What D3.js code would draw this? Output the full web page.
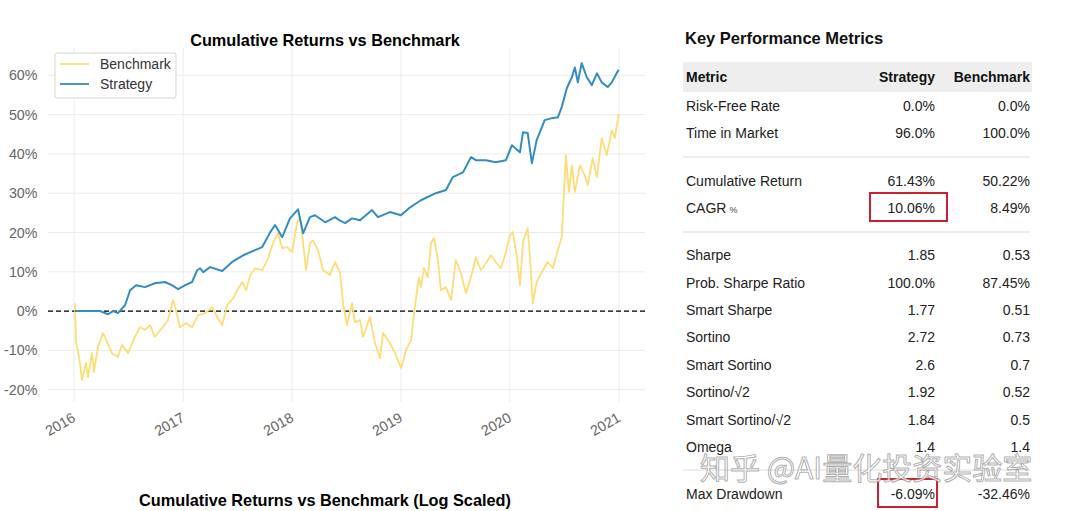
<!DOCTYPE html>
<html><head><meta charset="utf-8">
<script src="https://cdn.jsdelivr.net/npm/d3@7"></script>
<style>
html,body{margin:0;padding:0;background:#fff;}
svg{display:block;font-family:"Liberation Sans",Arial,sans-serif;}
</style></head>
<body><svg id="c" width="1080" height="511"></svg>
<script>
// ---------------- data ----------------
const strategyDates = ["2016-01-04","2016-03-28","2016-04-24","2016-05-11","2016-05-27","2016-06-20","2016-07-07","2016-07-27","2016-08-26","2016-09-28","2016-11-01","2016-11-24","2016-12-15","2017-01-08","2017-01-31","2017-02-17","2017-02-27","2017-03-09","2017-04-01","2017-05-12","2017-06-14","2017-07-21","2017-08-30","2017-09-23","2017-10-20","2017-11-05","2017-11-29","2017-12-25","2018-01-21","2018-02-07","2018-03-02","2018-03-19","2018-04-22","2018-05-25","2018-06-11","2018-06-28","2018-07-21","2018-08-17","2018-09-26","2018-10-16","2018-11-25","2019-01-01","2019-01-28","2019-03-09","2019-04-28","2019-06-01","2019-06-24","2019-07-28","2019-08-24","2019-09-09","2019-10-13","2019-11-15","2019-12-19","2020-01-08","2020-02-04","2020-02-14","2020-03-01","2020-03-15","2020-03-31","2020-04-27","2020-05-21","2020-06-10","2020-06-23","2020-07-10","2020-07-27","2020-08-06","2020-08-16","2020-08-29","2020-09-15","2020-10-02","2020-10-19","2020-11-04","2020-11-24","2020-12-08","2020-12-24","2020-12-31"];
const strategyValues = [0,0,-0.8,0,-0.5,1.5,5.3,6.6,6.1,7.1,7.4,6.6,5.6,6.6,7.4,10.4,10.9,9.9,11.2,10.2,12.5,14.2,15.5,16.3,20.1,21.9,18.8,23.6,25.9,19.8,23.9,24.4,22.6,23.9,23.0,22.4,23.6,23.1,25.7,23.9,25.2,24.4,26.2,28.2,30.0,30.8,34.1,35.3,39.2,38.4,38.4,37.9,38.4,42.2,40.4,45.5,45.3,37.6,43.5,48.6,49.1,49.3,51.9,56.7,59.5,62.0,58.2,63.1,59.5,57.5,60.5,58.2,57.0,58.2,60.5,61.4];

const benchmarkDates = ["2016-01-04","2016-01-08","2016-01-18","2016-01-28","2016-02-10","2016-02-17","2016-03-01","2016-03-08","2016-03-21","2016-04-07","2016-04-21","2016-05-07","2016-05-27","2016-06-10","2016-06-30","2016-07-23","2016-08-09","2016-08-26","2016-09-12","2016-09-28","2016-10-22","2016-11-11","2016-11-28","2016-12-08","2016-12-21","2017-01-11","2017-01-31","2017-02-20","2017-03-16","2017-04-08","2017-04-25","2017-05-12","2017-05-28","2017-06-18","2017-07-01","2017-07-18","2017-07-31","2017-08-14","2017-08-30","2017-09-23","2017-10-13","2017-10-30","2017-11-15","2017-11-29","2017-12-16","2018-01-01","2018-01-18","2018-01-28","2018-02-07","2018-02-17","2018-03-02","2018-03-12","2018-03-29","2018-04-15","2018-05-08","2018-05-25","2018-06-11","2018-06-21","2018-07-04","2018-07-21","2018-07-31","2018-08-17","2018-08-27","2018-09-19","2018-10-06","2018-10-23","2018-11-02","2018-11-25","2018-12-12","2019-01-02","2019-01-18","2019-02-04","2019-02-14","2019-03-02","2019-03-09","2019-03-19","2019-04-01","2019-04-12","2019-04-22","2019-05-05","2019-05-15","2019-06-01","2019-06-18","2019-07-04","2019-07-21","2019-08-07","2019-08-24","2019-09-09","2019-09-26","2019-10-20","2019-10-30","2019-11-15","2019-12-02","2019-12-19","2020-01-01","2020-01-11","2020-01-24","2020-02-04","2020-02-14","2020-03-01","2020-03-08","2020-03-18","2020-03-31","2020-04-17","2020-05-07","2020-05-24","2020-06-10","2020-06-23","2020-06-30","2020-07-07","2020-07-17","2020-07-27","2020-08-06","2020-08-23","2020-09-08","2020-09-18","2020-10-05","2020-10-19","2020-11-04","2020-11-21","2020-12-08","2020-12-18","2020-12-31"];
const benchmarkValues = [2.0,-8.0,-11.7,-17.5,-13.2,-16.8,-10.7,-15.5,-9.2,-5.6,-7.9,-10.7,-11.7,-8.6,-10.7,-6.6,-4.1,-4.8,-3.6,-6.6,-4.3,-2.3,2.8,0.3,-4.1,-3.1,-4.1,-1.0,-0.5,1.0,-1.5,-3.6,1.5,3.3,5.3,7.4,5.3,9.2,10.9,10.4,13.5,17.5,19.8,16.0,16.3,15.0,22.6,23.9,17.3,10.4,17.3,18.0,15.5,10.4,9.2,12.5,9.7,2.0,-3.6,2.0,-2.8,-2.3,-6.6,-1.5,-8.1,-12.0,-5.6,-8.1,-10.7,-14.5,-9.9,-7.4,-0.5,8.6,6.1,10.9,8.6,17.3,18.6,13.0,5.3,6.1,2.8,13.0,9.7,4.6,8.6,13.7,10.4,13.0,14.2,12.5,10.9,15.0,19.3,20.1,14.2,6.6,17.5,21.1,14.2,2.0,7.4,9.9,12.5,10.9,15.5,18.8,29.5,39.7,30.3,37.1,30.3,37.1,34.6,32.0,38.9,34.1,44.0,39.7,46.0,44.0,50.2];

const yTicks = [-20,-10,0,10,20,30,40,50,60];
const xTickYears = ["2016","2017","2018","2019","2020","2021"];
const seriesNames = ["Benchmark","Strategy"];
const seriesColors = ["#fedd78","#348dc1"];

const metricNames = ["Risk-Free Rate","Time in Market",null,"Cumulative Return","CAGR",null,"Sharpe","Prob. Sharpe Ratio","Smart Sharpe","Sortino","Smart Sortino","Sortino/\u221a2","Smart Sortino/\u221a2","Omega",null,"Max Drawdown"];
const strategyMetrics = ["0.0%","96.0%",null,"61.43%","10.06%",null,"1.85","100.0%","1.77","2.72","2.6","1.92","1.84","1.4",null,"-6.09%"];
const benchmarkMetrics = ["0.0%","100.0%",null,"50.22%","8.49%",null,"0.53","87.45%","0.51","0.73","0.7","0.52","0.5","1.4",null,"-32.46%"];
const highlighted = ["CAGR","Max Drawdown"];

// ---------------- chart ----------------
(function(){
const svg = d3.select("#c");
const parse = d3.timeParse("%Y-%m-%d");
const x = d3.scaleTime().domain([parse("2016-01-01"), parse("2021-01-01")]).range([74, 619]);
const y = d3.scaleLinear().domain([-20, 60]).range([389.7, 75.3]);
const pLeft = 48, pRight = 645, pTop = 48, pBottom = 402;

// grid
svg.append("g").selectAll("line").data(yTicks).join("line")
  .attr("x1", pLeft).attr("x2", pRight).attr("y1", d => y(d)).attr("y2", d => y(d))
  .attr("stroke", "#ebebeb").attr("stroke-width", 1);
svg.append("g").selectAll("line").data(xTickYears).join("line")
  .attr("x1", d => x(parse(d + "-01-01"))).attr("x2", d => x(parse(d + "-01-01")))
  .attr("y1", pTop).attr("y2", pBottom)
  .attr("stroke", "#ebebeb").attr("stroke-width", 1);

// y axis labels
const yAxis = d3.axisLeft(y).tickValues(yTicks).tickFormat(d => d + "%").tickSize(0).tickPadding(0);
const ya = svg.append("g").attr("transform", "translate(37.5,0)").call(yAxis);
ya.select(".domain").remove();
ya.selectAll("text").attr("fill", "#666").attr("font-size", 14.3).attr("font-family", "Liberation Sans, Arial, sans-serif");

// x axis labels
const xAxis = d3.axisBottom(x).tickValues(xTickYears.map(d => parse(d + "-01-01"))).tickFormat(d3.timeFormat("%Y")).tickSize(0);
const xa = svg.append("g").attr("transform", "translate(0,405)").call(xAxis);
xa.select(".domain").remove();
xa.selectAll("text").attr("fill", "#666").attr("font-size", 14.3).attr("font-family", "Liberation Sans, Arial, sans-serif")
  .attr("text-anchor", "end").attr("y", 14.4).attr("dy", 0).attr("dx", -6)
  .attr("transform", "rotate(-30)");

// zero line
svg.append("line").attr("x1", pLeft).attr("x2", pRight).attr("y1", y(0)).attr("y2", y(0))
  .attr("stroke", "#000").attr("stroke-width", 1.2).attr("stroke-dasharray", "5,3");

// lines
const line = d3.line().x(d => x(d.date)).y(d => y(d.v));
const bench = benchmarkDates.map((d, i) => ({date: parse(d), v: benchmarkValues[i]}));
const strat = strategyDates.map((d, i) => ({date: parse(d), v: strategyValues[i]}));
svg.append("path").datum(bench).attr("d", line).attr("fill", "none")
  .attr("stroke", seriesColors[0]).attr("stroke-width", 1.8).attr("stroke-linejoin", "round");
svg.append("path").datum(strat).attr("d", line).attr("fill", "none")
  .attr("stroke", seriesColors[1]).attr("stroke-width", 2).attr("stroke-linejoin", "round");

// titles
svg.append("text").attr("x", 325).attr("y", 46).attr("text-anchor", "middle")
  .attr("font-size", 16.3).attr("font-weight", "bold").attr("fill", "#000")
  .text("Cumulative Returns vs Benchmark");
svg.append("text").attr("x", 325).attr("y", 506).attr("text-anchor", "middle")
  .attr("font-size", 16.3).attr("font-weight", "bold").attr("fill", "#000")
  .text("Cumulative Returns vs Benchmark (Log Scaled)");

// legend
const lg = svg.append("g");
lg.append("rect").attr("x", 55).attr("y", 53).attr("width", 121).attr("height", 45).attr("rx", 2)
  .attr("fill", "#fff").attr("stroke", "#d5d5d5");
seriesNames.forEach((n, i) => {
  const yy = 64 + i * 20;
  lg.append("line").attr("x1", 60).attr("x2", 89).attr("y1", yy).attr("y2", yy)
    .attr("stroke", seriesColors[i]).attr("stroke-width", 1.8);
  lg.append("text").attr("x", 100).attr("y", yy + 5).attr("font-size", 14).attr("fill", "#333").text(n);
});

// ---------------- table ----------------
const tb = svg.append("g");
tb.append("text").attr("x", 685).attr("y", 44).attr("font-size", 16.5).attr("font-weight", "bold").attr("fill", "#111")
  .text("Key Performance Metrics");
tb.append("rect").attr("x", 683).attr("y", 62).attr("width", 349).attr("height", 30).attr("fill", "#eeeeee");
const hy = 82;
tb.append("text").attr("x", 686).attr("y", hy).attr("font-size", 14).attr("font-weight", "bold").attr("fill", "#111").text("Metric");
tb.append("text").attr("x", 935).attr("y", hy).attr("text-anchor", "end").attr("font-size", 14).attr("font-weight", "bold").attr("fill", "#111").text("Strategy");
tb.append("text").attr("x", 1030).attr("y", hy).attr("text-anchor", "end").attr("font-size", 14).attr("font-weight", "bold").attr("fill", "#111").text("Benchmark");

const rowCenters = [106,133,157,181,208,232,255,283,310,337,365,392,420,447,470,494];
metricNames.forEach((m, i) => {
  const cy = rowCenters[i];
  if (m === null) {
    tb.append("line").attr("x1", 683).attr("x2", 1030).attr("y1", cy).attr("y2", cy).attr("stroke", "#dcdcdc").attr("stroke-width", 1.2);
    return;
  }
  const t = tb.append("text").attr("x", 686).attr("y", cy + 5).attr("font-size", 14).attr("fill", "#222").text(m);
  if (m === "CAGR") t.append("tspan").attr("font-size", 9).attr("dx", 3).attr("fill", "#444").text("%");
  tb.append("text").attr("x", 935).attr("y", cy + 5).attr("text-anchor", "end").attr("font-size", 14).attr("fill", "#222").text(strategyMetrics[i]);
  tb.append("text").attr("x", 1030).attr("y", cy + 5).attr("text-anchor", "end").attr("font-size", 14).attr("fill", "#222").text(benchmarkMetrics[i]);
});

// highlight boxes
const boxes = {"CAGR": [870, 193, 77, 28], "Max Drawdown": [878, 479, 59, 28]};
highlighted.forEach(h => {
  const b = boxes[h];
  tb.append("rect").attr("x", b[0]).attr("y", b[1]).attr("width", b[2]).attr("height", b[3])
    .attr("fill", "none").attr("stroke", "#cc1f2f").attr("stroke-width", 2);
});

// watermark
svg.append("text").attr("x", 700).attr("y", 479).attr("font-size", 30)
  .attr("font-family", "Noto Sans CJK SC, sans-serif")
  .attr("fill", "rgba(255,255,255,0.75)").attr("stroke", "rgba(120,120,120,0.6)").attr("stroke-width", 1)
  .text("知乎 @AI量化投资实验室");
})();
</script></body></html>
